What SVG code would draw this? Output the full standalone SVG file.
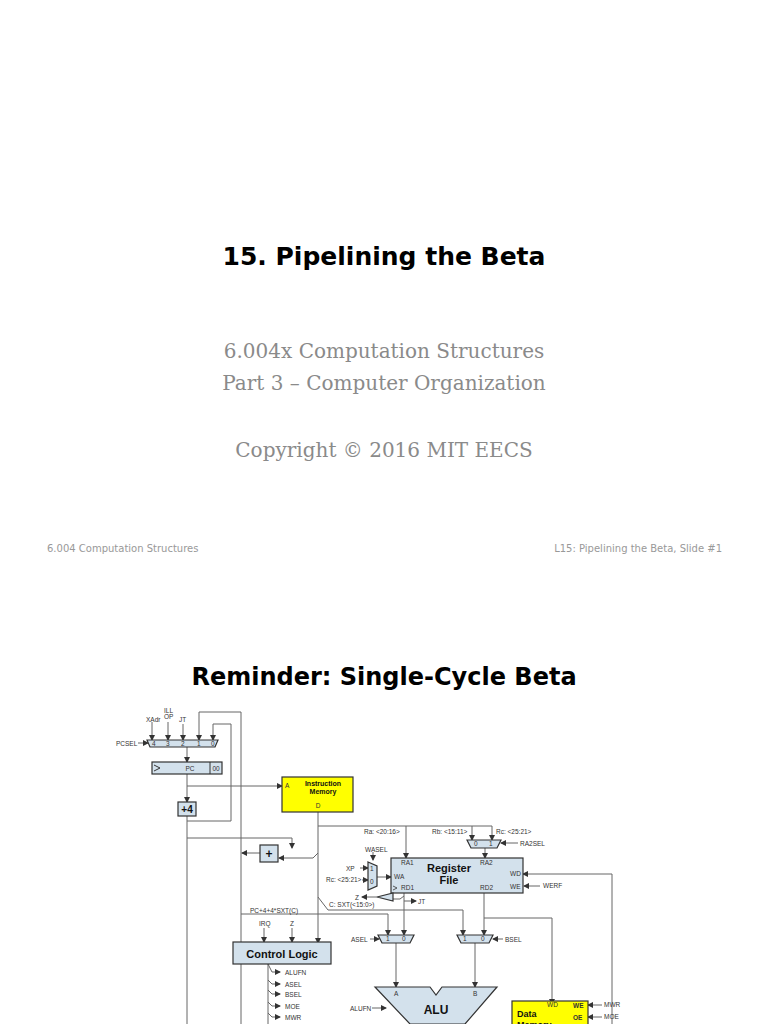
<svg xmlns="http://www.w3.org/2000/svg" width="768" height="1024" viewBox="0 0 768 1024">
<defs>
<marker id="ar" markerWidth="6" markerHeight="6" refX="5" refY="3" orient="auto" markerUnits="userSpaceOnUse"><path d="M0,0 L6,3 L0,6 z" fill="#333"/></marker>
<style>
.t{font-family:"DejaVu Sans",sans-serif;font-weight:bold;fill:#000}
.s{font-family:"DejaVu Serif",serif;fill:#8a8a8a;font-size:20px}
.f{font-family:"DejaVu Sans",sans-serif;fill:#999;font-size:10px}
.l{font-family:"Liberation Sans",Arial,sans-serif;font-size:6.5px;fill:#333}
.b{font-family:"Liberation Sans",Arial,sans-serif;font-weight:bold;fill:#111}
.bx{fill:#d3e1ec;stroke:#333;stroke-width:1.2}
.y{fill:#ffff00;stroke:#333;stroke-width:1.2}
.w{fill:none;stroke:#666;stroke-width:1}
.a{fill:none;stroke:#666;stroke-width:1;marker-end:url(#ar)}
</style>
</defs>
<rect width="768" height="1024" fill="#fff"/>
<text class="t" x="384" y="265" text-anchor="middle" font-size="25">15. Pipelining the Beta</text>
<text class="s" x="384" y="358" text-anchor="middle">6.004x Computation Structures</text>
<text class="s" x="384" y="390" text-anchor="middle">Part 3 – Computer Organization</text>
<text class="s" x="384" y="457" text-anchor="middle">Copyright © 2016 MIT EECS</text>
<text class="f" x="47" y="552">6.004 Computation Structures</text>
<text class="f" x="722" y="552" text-anchor="end">L15: Pipelining the Beta, Slide #1</text>
<text class="t" x="384" y="685" text-anchor="middle" font-size="24">Reminder: Single-Cycle Beta</text>

<g id="connectors">
<path class="a" d="M152,722 V740"/><path class="a" d="M168,722 V740"/><path class="a" d="M183,724 V740"/>
<path class="a" d="M241,1024 V712 H199 V740"/>
<path class="a" d="M187,821 H231 V724 H213 V740"/>
<path class="a" d="M138,743 H148"/>
<path class="a" d="M187,747 V762"/>
<path class="a" d="M187,774 V802"/>
<path class="a" d="M187,786 H282"/>
<path class="w" d="M187,816 V1024"/>
<path class="a" d="M187,838 H292 V848"/>
<path class="a" d="M260,853 H242"/>
<path class="a" d="M318,812 V943"/>
<path class="a" d="M318,853 L313,858 H279"/>
<path class="w" d="M318,826 H492"/>
<path class="a" d="M406,826 V858"/>
<path class="a" d="M472,826 V840"/>
<path class="a" d="M492,826 V840"/>
<path class="a" d="M485,848 V858"/>
<path class="a" d="M518,843 H501"/>
<path class="a" d="M360,868 H368"/>
<path class="a" d="M362,880 H368"/>
<path class="a" d="M373,852 V860"/>
<path class="a" d="M377,877 H391"/>
<path class="a" d="M612,1024 V874 H523"/>
<path class="a" d="M540,886 H524"/>
<path class="a" d="M404,893 V935"/>
<path class="a" d="M404,901 H416"/>
<path class="w" d="M404,896 L400,899 H393"/>
<path class="a" d="M377,897 H362"/>
<path class="a" d="M318,897 L328,910 H463 V935"/>
<path class="a" d="M241,914 H388 V935"/>
<path class="a" d="M484,893 V935"/>
<path class="w" d="M484,918 H552"/>
<path class="a" d="M552,918 V1004"/>
<path class="a" d="M264,928 V942"/><path class="a" d="M292,928 V942"/>
<path class="a" d="M370,939 H379"/><path class="a" d="M503,939 H493"/>
<path class="a" d="M396,943 V987"/><path class="a" d="M475,943 V987"/>
<path class="a" d="M372,1008 H386"/>
<path class="a" d="M602,1005 H588"/><path class="a" d="M602,1017 H588"/>
<path class="a" d="M268,964 L272,972 H280"/><path class="a" d="M268,964 V980 L272,984 H280"/>
<path class="a" d="M268,980 V990 L272,994 H280"/><path class="a" d="M268,990 V1002 L272,1006 H280"/>
<path class="a" d="M268,1002 V1013 L272,1017 H280"/><path class="w" d="M268,1013 V1024"/>
</g>

<g id="pcsel"><polygon class="bx" points="147,740 218,740 215,747 150,747"/>
<text class="l" x="152" y="746">4</text><text class="l" x="166" y="746">3</text><text class="l" x="181" y="746">2</text><text class="l" x="197" y="746">1</text><text class="l" x="211" y="746">0</text>
<text class="l" x="116" y="746">PCSEL</text><text class="l" x="146" y="722" font-size="5">XAdr</text><text class="l" x="164" y="713" font-size="5">ILL</text><text class="l" x="164" y="719" font-size="5">OP</text><text class="l" x="179" y="722" font-size="5">JT</text></g>
<g id="pc"><rect class="bx" x="152" y="762" width="70" height="12"/><line x1="210" y1="762" x2="210" y2="774" stroke="#333"/>
<path d="M154,765 L160,768 L154,771" fill="none" stroke="#333"/><text class="l" x="190" y="771" text-anchor="middle">PC</text><text class="l" x="216" y="771" text-anchor="middle" font-size="5">00</text></g>
<g id="plus4"><rect class="bx" x="178" y="802" width="18" height="14"/><text class="b" x="187" y="813" text-anchor="middle" font-size="10">+4</text></g>
<g id="adder"><rect class="bx" x="260" y="845" width="18" height="17"/><text class="b" x="269" y="858" text-anchor="middle" font-size="12">+</text></g>
<g id="imem"><rect class="y" x="282" y="777" width="71" height="35"/><text class="b" x="323" y="786" text-anchor="middle" font-size="7">Instruction</text><text class="b" x="323" y="794" text-anchor="middle" font-size="7">Memory</text>
<text class="l" x="285" y="788">A</text><text class="l" x="318" y="808" text-anchor="middle">D</text></g>
<g id="labels"><text class="l" x="364" y="834">Ra: &lt;20:16&gt;</text><text class="l" x="432" y="834">Rb: &lt;15:11&gt;</text><text class="l" x="496" y="834">Rc: &lt;25:21&gt;</text>
<text class="l" x="520" y="846">RA2SEL</text><text class="l" x="365" y="852" font-size="4.5">WASEL</text><text class="l" x="346" y="871">XP</text><text class="l" x="326" y="882">Rc: &lt;25:21&gt;</text>
<text class="l" x="543" y="888">WERF</text><text class="l" x="355" y="900">Z</text><text class="l" x="418" y="904">JT</text>
<text class="l" x="329" y="907">C: SXT(&lt;15:0&gt;)</text><text class="l" x="250" y="913">PC+4+4*SXT(C)</text>
<text class="l" x="259" y="926">IRQ</text><text class="l" x="290" y="926">Z</text><text class="l" x="351" y="942">ASEL</text><text class="l" x="505" y="942">BSEL</text>
<text class="l" x="350" y="1011">ALUFN</text><text class="l" x="604" y="1007">MWR</text><text class="l" x="604" y="1019">MOE</text>
<text class="l" x="285" y="975">ALUFN</text><text class="l" x="285" y="987">ASEL</text><text class="l" x="285" y="997">BSEL</text><text class="l" x="285" y="1009">MOE</text><text class="l" x="285" y="1020">MWR</text></g>
<g id="ra2sel"><polygon class="bx" points="467,840 501,840 497,848 471,848"/><text class="l" x="474" y="846">0</text><text class="l" x="489" y="846">1</text></g>
<g id="wasel"><polygon class="bx" points="368,862 377,866 377,886 368,890"/><text class="l" x="370" y="871">1</text><text class="l" x="370" y="884">0</text></g>
<g id="regfile"><rect class="bx" x="391" y="858" width="132" height="35"/><text class="b" x="449" y="872" text-anchor="middle" font-size="11">Register</text><text class="b" x="449" y="884" text-anchor="middle" font-size="11">File</text>
<text class="l" x="401" y="865">RA1</text><text class="l" x="480" y="865">RA2</text><text class="l" x="394" y="879">WA</text><text class="l" x="510" y="876">WD</text>
<text class="l" x="401" y="890">RD1</text><text class="l" x="480" y="890">RD2</text><text class="l" x="510" y="889">WE</text><path d="M393,886 L397,888 L393,890" fill="none" stroke="#333" stroke-width="0.8"/></g>
<g id="zcmp"><polygon class="bx" points="377,897 393,893 393,901"/></g>
<g id="asel"><polygon class="bx" points="378,935 414,935 410,943 382,943"/><text class="l" x="386" y="941">1</text><text class="l" x="402" y="941">0</text></g>
<g id="bsel"><polygon class="bx" points="457,935 493,935 489,943 461,943"/><text class="l" x="463" y="941">1</text><text class="l" x="481" y="941">0</text></g>
<g id="control"><rect class="bx" x="233" y="942" width="98" height="22"/><text class="b" x="282" y="958" text-anchor="middle" font-size="11">Control Logic</text></g>
<g id="alu"><polygon class="bx" points="375,987 430,987 436,995 442,987 497,987 465,1024 410,1024"/><text class="b" x="436" y="1014" text-anchor="middle" font-size="12">ALU</text>
<text class="l" x="394" y="996">A</text><text class="l" x="473" y="996">B</text></g>
<g id="dmem"><rect class="y" x="512" y="1001" width="76" height="30"/><text class="l" x="547" y="1007">WD</text><text class="l" x="573" y="1008" font-weight="bold">WE</text><text class="l" x="573" y="1020" font-weight="bold">OE</text>
<text class="b" x="517" y="1017" font-size="9">Data</text><text class="b" x="517" y="1028" font-size="9">Memory</text></g>
</svg>
